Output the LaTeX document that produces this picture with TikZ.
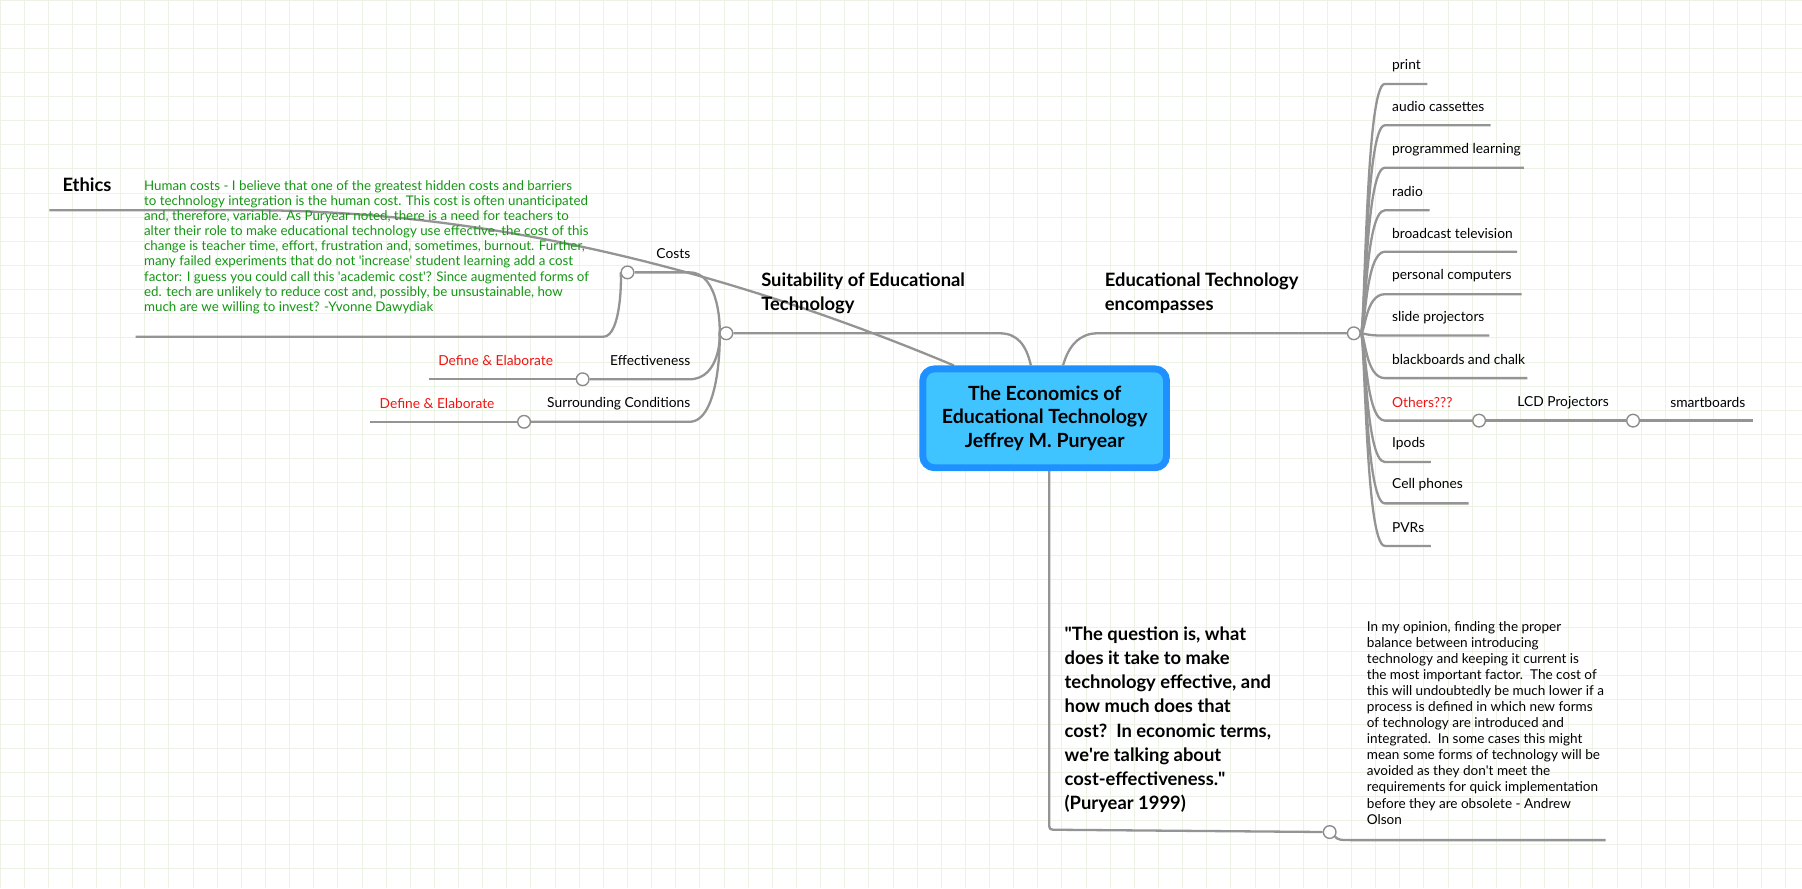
\documentclass[tikz,border=0pt]{standalone}
\usepackage{fontspec}
\setmainfont{Lato}
\begin{document}
\begin{tikzpicture}[x=0.5pt,y=-0.5pt,
  ln/.style={draw=black!42,line width=1pt},
  dot/.style={circle,draw=black!45,fill=white,line width=0.6pt,inner sep=0pt,minimum size=5.5pt},
  lbl/.style={font=\fontsize{6}{7}\selectfont,inner sep=0pt},
  red/.style={lbl,text={rgb,255:red,240;green,20;blue,20}},
  head/.style={font=\fontsize{8}{10.5}\selectfont\bfseries,inner sep=0pt,align=left,anchor=north west}]
\useasboundingbox (0,0) rectangle (1568,773);
\fill[white] (0,0) rectangle (1568,773);
\foreach \i in {0,21,...,1568} \draw[color={rgb,255:red,236;green,242;blue,228},line width=0.4pt] (\i,0) -- (\i,773);
\foreach \j in {0,21,...,773} \draw[color={rgb,255:red,236;green,242;blue,228},line width=0.4pt] (0,\j) -- (1568,\j);

% Ethics
\node[head,anchor=west] (eth) at (54,161) {Ethics};
\draw[ln] (43,183) -- (230,183) .. controls (420,185) and (620,230) .. (830,318);

% center
\node[draw={rgb,255:red,30;green,144;blue,255},fill={rgb,255:red,64;green,196;blue,255},line width=3pt,rounded corners=5pt,minimum width=106pt,minimum height=43pt,align=center,font=\fontsize{8.5}{10.3}\selectfont\bfseries] (c) at (909,364) {The Economics of\\Educational Technology\\Jeffrey M. Puryear};

% Suitability branch
\node[head] (suit) at (662,237) {Suitability of Educational\\Technology};
\node[dot] (s) at (632,290) {};
\draw[ln] (s) -- (870,290) .. controls (885,290) and (893,300) .. (897,318);
\node[dot] (co) at (546,237) {};
\node[dot] (ef) at (507,330) {};
\node[dot] (su) at (456,367) {};
\draw[ln] (s) .. controls (627,290) and (627,237) .. (600,237) -- (co);
\draw[ln] (s) .. controls (627,290) and (627,330) .. (600,330) -- (ef);
\draw[ln] (s) .. controls (627,290) and (627,367) .. (600,367) -- (su);
\node[lbl,anchor=east] (tco) at (601,221) {Costs};
\node[lbl,anchor=east] (tef) at (601,314) {Effectiveness};
\node[lbl,anchor=east] (tsu) at (601,351) {Surrounding Conditions};
\draw[ln] (ef) -- (373,330);
\node[red,anchor=west] (d1) at (381,314) {Define \& Elaborate};
\draw[ln] (su) -- (322,367);
\node[red,anchor=west] (d2) at (330,351) {Define \& Elaborate};
\draw[ln] (co) .. controls (541,237) and (541,293) .. (525,293) -- (118,293);
\node[font=\fontsize{5.8}{6.55}\selectfont,text={rgb,255:red,20;green,150;blue,20},inner sep=0pt,align=left,anchor=north west] (green) at (125,157) {Human costs - I believe that one of the greatest hidden costs and barriers\\to technology integration is the human cost. This cost is often unanticipated\\and, therefore, variable. As Puryear noted, there is a need for teachers to\\alter their role to make educational technology use effective, the cost of this\\change is teacher time, effort, frustration and, sometimes, burnout. Further,\\many failed experiments that do not \textquotesingle increase\textquotesingle\ student learning add a cost\\factor: I guess you could call this \textquotesingle academic cost\textquotesingle? Since augmented forms of\\ed. tech are unlikely to reduce cost and, possibly, be unsustainable, how\\much are we willing to invest? -Yvonne Dawydiak};

% Right branch
\node[head] (enc) at (961,237) {Educational Technology\\encompasses};
\node[dot] (r) at (1178,290) {};
\draw[ln] (925,318) .. controls (930,300) and (940,290) .. (955,290) -- (r);
\foreach \t/\y/\e [count=\k] in {print/73/1242,audio cassettes/109/1297,programmed learning/146/1326,radio/183/1244,broadcast television/219/1320,personal computers/256/1324,slide projectors/292/1296,blackboards and chalk/329/1329,Ipods/402/1245,Cell phones/438/1278,PVRs/475/1245}{
  \draw[ln] (r) .. controls (1188,290) and (1188,\y) .. (1205,\y) -- (\e,\y);
  \node[lbl,anchor=west] (it\k) at (1211,\y-16) {\t};
}
\node[dot] (lcd) at (1287,366) {};
\node[dot] (sm) at (1421,366) {};
\draw[ln] (r) .. controls (1188,290) and (1188,366) .. (1205,366) -- (lcd);
\draw[ln] (lcd) -- (sm) -- (1525,366);
\node[red,anchor=west] (oth) at (1211,350) {Others???};
\node[lbl,anchor=west] (tlcd) at (1320,350) {LCD Projectors};
\node[lbl,anchor=west] (tsm) at (1453,350) {smartboards};

% Bottom branch
\node[dot] (b) at (1157,724) {};
\draw[ln] (913,410) -- (913,716) .. controls (913,722) .. (920,722) -- (b);
\draw[ln] (b) .. controls (1165,731) .. (1180,731) -- (1397,731);
\node[head,font=\fontsize{8}{10.5}\selectfont\bfseries] (q) at (926,545) {\textquotedbl The question is, what\\does it take to make\\technology effective, and\\how much does that\\cost?\ \ In economic terms,\\we\textquotesingle re talking about\\cost-effectiveness.\textquotedbl\\(Puryear 1999)};
\node[font=\fontsize{5.9}{7}\selectfont,inner sep=0pt,align=left,anchor=north west] (op) at (1189,540) {In my opinion, finding the proper\\balance between introducing\\technology and keeping it current is\\the most important factor.\ \ The cost of\\this will undoubtedly be much lower if a\\process is defined in which new forms\\of technology are introduced and\\integrated.\ \ In some cases this might\\mean some forms of technology will be\\avoided as they don\textquotesingle t meet the\\requirements for quick implementation\\before they are obsolete - Andrew\\Olson};
\end{tikzpicture}
\end{document}
